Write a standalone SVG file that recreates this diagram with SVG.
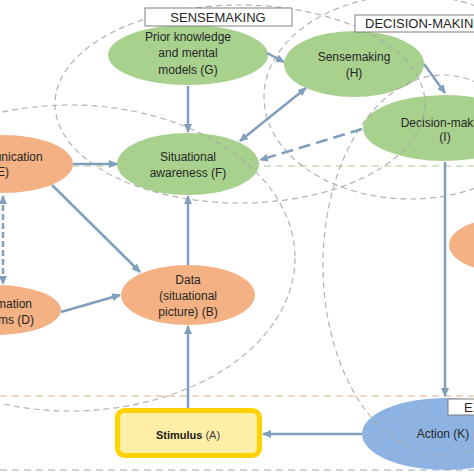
<svg xmlns="http://www.w3.org/2000/svg" width="474" height="474" viewBox="0 0 474 474">
<style>
.green{fill:#a9d18e}
.orange{fill:#f4b183}
.blue{fill:#8db3e2}
.t{font-family:"Liberation Sans",Arial,sans-serif;font-size:12px;fill:#262626;text-anchor:middle}
.lbl{font-family:"Liberation Sans",Arial,sans-serif;font-size:13px;fill:#262626}
.zone{fill:none;stroke:#a6a6a6;stroke-width:1.2;stroke-dasharray:6 4;opacity:0.85}
.hl{fill:none;stroke-width:1.4;stroke-dasharray:7 5}
.c{fill:none;stroke:#809fbd;stroke-width:2.5}
.box{fill:#fff;stroke:#7f7f7f;stroke-width:1}
</style>
<defs>
<marker id="ah" markerWidth="9" markerHeight="8" refX="8" refY="4" orient="auto-start-reverse" markerUnits="userSpaceOnUse">
<path d="M0,0 L9,4 L0,8 Z" fill="#809fbd"/>
</marker>
</defs>
<rect width="474" height="474" fill="#fff"/>
<g id="bands">
<line class="hl" x1="0" y1="166" x2="474" y2="166" stroke="#c9ddb3"/>
<line class="hl" x1="0" y1="396" x2="474" y2="396" stroke="#e8cbb4"/>
<line class="hl" x1="0" y1="470" x2="474" y2="470" stroke="#b7c7d8"/>
</g>
<g id="node-G"><ellipse class="green" cx="188" cy="55" rx="80" ry="30"/>
<text class="t" x="188" y="41">Prior knowledge</text><text class="t" x="188" y="57">and mental</text><text class="t" x="188" y="74">models (G)</text></g>
<g id="node-H"><ellipse class="green" cx="354" cy="64" rx="70" ry="33"/>
<text class="t" x="354" y="61">Sensemaking</text><text class="t" x="354" y="77">(H)</text></g>
<g id="node-I"><ellipse class="green" cx="445" cy="128" rx="82" ry="33"/>
<text class="t" x="445" y="127">Decision-making</text><text class="t" x="445" y="141">(I)</text></g>
<g id="node-F"><ellipse class="green" cx="188" cy="164" rx="71" ry="31"/>
<text class="t" x="188" y="161">Situational</text><text class="t" x="188" y="177">awareness (F)</text></g>
<g id="node-E"><ellipse class="orange" cx="3" cy="164" rx="70" ry="29"/>
<text class="t" x="1" y="161">Communication</text><text class="t" x="1" y="176">(E)</text></g>
<g id="node-D"><ellipse class="orange" cx="-4" cy="310" rx="65" ry="25"/>
<text class="t" x="2" y="308">Information</text><text class="t" x="2" y="324">systems (D)</text></g>
<g id="node-B"><ellipse class="orange" cx="188" cy="295" rx="67" ry="30"/>
<text class="t" x="188" y="284">Data</text><text class="t" x="188" y="300">(situational</text><text class="t" x="188" y="316">picture) (B)</text></g>
<g id="node-C"><ellipse class="orange" cx="510" cy="245" rx="61" ry="28"/></g>
<g id="node-A"><rect x="117.5" y="410.5" width="142" height="45" rx="7" fill="#ffeea6" stroke="#ffd200" stroke-width="5"/>
<text class="t" x="188" y="439" style="font-size:11px"><tspan font-weight="bold" fill="#1a1a1a">Stimulus</tspan><tspan fill="#404040"> (A)</tspan></text></g>
<g id="node-K"><ellipse class="blue" cx="445" cy="434" rx="83" ry="36"/>
<text class="t" x="443" y="438">Action (K)</text></g>
<g id="zones">
<ellipse class="zone" cx="240" cy="104" rx="185" ry="99"/>
<ellipse class="zone" cx="70" cy="258" rx="225" ry="153"/>
<ellipse class="zone" cx="410" cy="97" rx="146" ry="102"/>
<ellipse class="zone" cx="443" cy="265" rx="120" ry="190"/>
</g>
<g id="labels">
<rect class="box" x="145" y="8" width="147" height="18"/>
<text class="lbl" x="218" y="22" text-anchor="middle">SENSEMAKING</text>
<rect class="box" x="355" y="15" width="130" height="17"/>
<text class="lbl" x="365" y="28">DECISION-MAKING</text>
<rect class="box" x="448" y="399" width="40" height="16"/>
<text class="lbl" x="464" y="412">EXECUTION</text>
</g>
<g id="connectors">
<path class="c" d="M188,86 L188,132" marker-end="url(#ah)"/>
<path class="c" d="M267,53 L284,62" marker-end="url(#ah)"/>
<path class="c" d="M306,88 L240,141" marker-start="url(#ah)" marker-end="url(#ah)"/>
<path class="c" d="M362,129 L260,160" stroke-width="3" stroke-dasharray="12 6" marker-end="url(#ah)"/>
<path class="c" d="M424,64 L445,93" marker-end="url(#ah)"/>
<path class="c" d="M445,162 L445,396" marker-end="url(#ah)"/>
<path class="c" d="M362,434 L263,434" marker-end="url(#ah)"/>
<path class="c" d="M188,408 L188,326" marker-end="url(#ah)"/>
<path class="c" d="M188,265 L188,196" marker-end="url(#ah)"/>
<path class="c" d="M73,164 L117,164" marker-end="url(#ah)"/>
<path class="c" d="M52,185 L140,272" marker-end="url(#ah)"/>
<path class="c" d="M61,312 L120,295" marker-end="url(#ah)"/>
<path class="c" d="M3,196 L3,284" stroke-width="3" stroke-dasharray="6 3" marker-start="url(#ah)" marker-end="url(#ah)"/>
</g>
</svg>
